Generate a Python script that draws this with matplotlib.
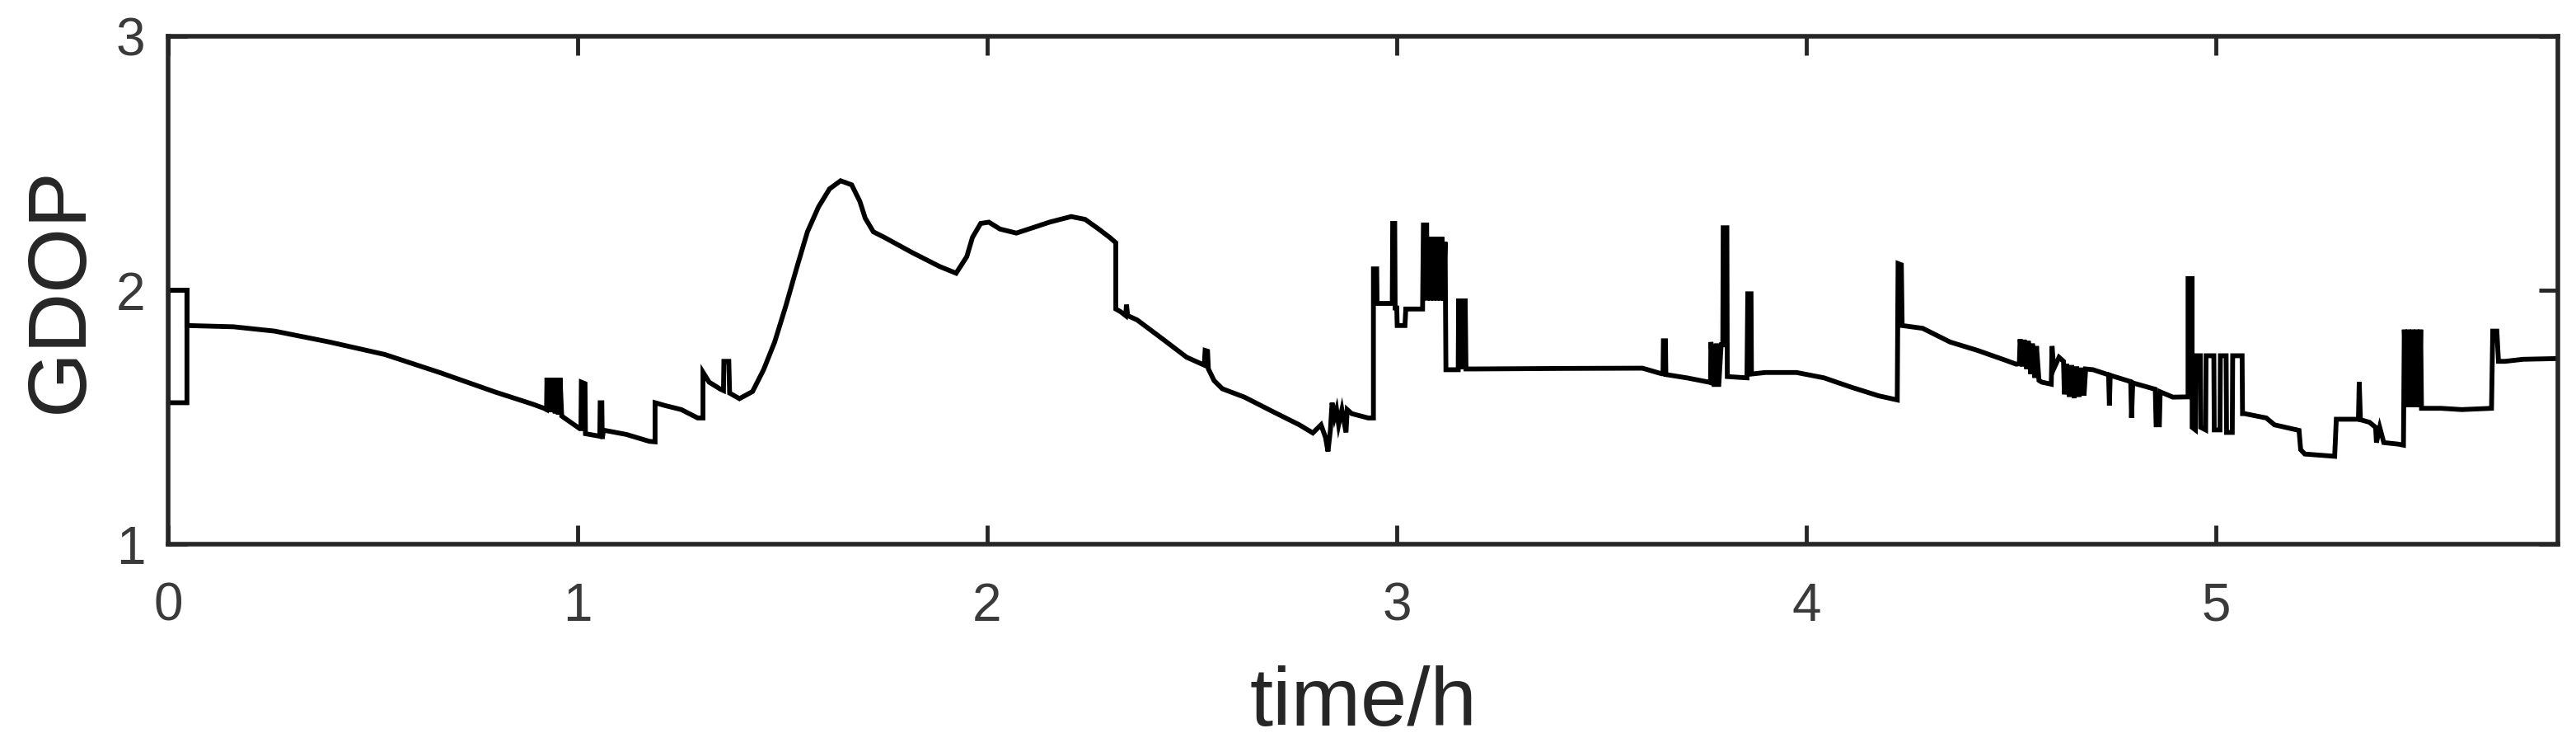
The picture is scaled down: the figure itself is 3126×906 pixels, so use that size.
import matplotlib
matplotlib.use("Agg")
import matplotlib.pyplot as plt

plt.rcParams['font.family'] = ['Liberation Sans', 'DejaVu Sans']

# GDOP trace (time in hours)
time_h = [
    0.0, 0.0, 0.046, 0.046, 0.0, 0.046, 0.046,
    0.16, 0.26, 0.394, 0.529, 0.663, 0.797, 0.891, 0.918,
    0.924, 0.925, 0.929, 0.933, 0.937, 0.941, 0.945, 0.949, 0.953, 0.957, 0.961,
    0.965, 1.005, 1.008, 1.009, 1.018, 1.019,
    1.054, 1.055, 1.059, 1.060, 1.063, 1.119, 1.175, 1.189, 1.189,
    1.213, 1.253, 1.293, 1.306, 1.306,
    1.321, 1.348, 1.356, 1.357, 1.369, 1.371, 1.395,
    1.427, 1.454, 1.481, 1.508, 1.535, 1.561, 1.588, 1.615, 1.642, 1.669,
    1.689, 1.702, 1.722, 1.749, 1.816, 1.883, 1.924, 1.950, 1.964, 1.984,
    2.004, 2.031, 2.071, 2.111, 2.152, 2.205, 2.239, 2.272, 2.299, 2.314, 2.314,
    2.326, 2.338, 2.340, 2.343, 2.366, 2.420, 2.487, 2.530, 2.532, 2.538, 2.540,
    2.554, 2.574, 2.628, 2.695, 2.762, 2.795,
    2.815, 2.826, 2.832, 2.838, 2.842, 2.848, 2.853, 2.858, 2.866, 2.876, 2.879,
    2.890, 2.930, 2.943, 2.943, 2.951, 2.952, 2.989, 2.990, 2.995, 2.996,
    3.000, 3.001, 3.020, 3.022, 3.063, 3.065, 3.073, 3.074,
    3.078, 3.082, 3.086, 3.090, 3.094, 3.098, 3.102, 3.106, 3.110, 3.114, 3.118, 3.120,
    3.150, 3.151, 3.155, 3.159, 3.163, 3.167, 3.169, 3.20, 3.40, 3.60, 3.647,
    3.650, 3.651, 3.656, 3.657, 3.708, 3.762, 3.766, 3.767, 3.775, 3.780, 3.786,
    3.792, 3.796, 3.797, 3.806, 3.807, 3.855, 3.857, 3.865, 3.866,
    3.90, 3.976, 4.043, 4.110, 4.177, 4.222, 4.224, 4.232, 4.234,
    4.284, 4.351, 4.418, 4.485, 4.512,
    4.520, 4.522, 4.528, 4.532, 4.538, 4.542, 4.548, 4.552, 4.558, 4.562, 4.568, 4.575,
    4.598, 4.600, 4.604, 4.617,
    4.628, 4.630, 4.636, 4.642, 4.648, 4.654, 4.660, 4.666, 4.672, 4.678, 4.682,
    4.700, 4.738, 4.740, 4.742, 4.792, 4.794, 4.797, 4.852, 4.854, 4.862, 4.864,
    4.895, 4.925, 4.932, 4.932, 4.942, 4.942, 4.950, 4.951, 4.962, 4.963, 4.975,
    4.976, 4.995, 4.996, 5.010, 5.011, 5.025, 5.026, 5.040, 5.041, 5.064, 5.065,
    5.070, 5.123, 5.143, 5.203, 5.207, 5.217, 5.290, 5.294, 5.345, 5.348, 5.350,
    5.353, 5.375, 5.390, 5.392, 5.400, 5.405, 5.410, 5.445, 5.458,
    5.460, 5.466, 5.470, 5.476, 5.480, 5.486, 5.490, 5.496, 5.500, 5.502,
    5.55, 5.60, 5.673, 5.676, 5.686, 5.690, 5.706, 5.75, 5.835,
]
gdop = [
    2.0, 1.557, 1.557, 2.0, 2.0, 2.0, 1.861,
    1.856, 1.839, 1.796, 1.747, 1.676, 1.600, 1.551, 1.535,
    1.53, 1.655, 1.52, 1.655, 1.52, 1.655, 1.515, 1.655, 1.51, 1.655, 1.505,
    1.50, 1.455, 1.455, 1.638, 1.632, 1.435,
    1.425, 1.557, 1.557, 1.415, 1.449, 1.432, 1.405, 1.403, 1.557,
    1.546, 1.530, 1.497, 1.497, 1.677,
    1.638, 1.611, 1.605, 1.720, 1.720, 1.595, 1.573,
    1.601, 1.687, 1.796, 1.937, 2.089, 2.230, 2.328, 2.399, 2.431, 2.415,
    2.350, 2.284, 2.230, 2.208, 2.149, 2.094, 2.067, 2.132, 2.208, 2.263,
    2.268, 2.241, 2.225, 2.246, 2.268, 2.290, 2.279, 2.241, 2.208, 2.187, 1.926,
    1.915, 1.90, 1.943, 1.90, 1.883, 1.818, 1.736, 1.705, 1.763, 1.760, 1.690,
    1.644, 1.612, 1.579, 1.524, 1.470, 1.438,
    1.47, 1.42, 1.365, 1.45, 1.557, 1.50, 1.53, 1.47, 1.53, 1.44, 1.53,
    1.514, 1.497, 1.497, 2.084, 2.084, 1.948, 1.948, 2.263, 2.263, 1.930,
    1.930, 1.861, 1.861, 1.926, 1.926, 2.257, 2.257, 1.960,
    2.21, 1.96, 2.21, 1.96, 2.21, 1.96, 2.21, 1.96, 2.21, 1.96, 2.19, 1.687,
    1.687, 1.967, 1.69, 1.967, 1.69, 1.967, 1.690, 1.690, 1.692, 1.693, 1.671,
    1.671, 1.801, 1.801, 1.668, 1.655, 1.638, 1.636, 1.796, 1.62, 1.79, 1.62,
    1.785, 1.785, 2.246, 2.246, 1.660, 1.655, 1.986, 1.986, 1.670,
    1.676, 1.676, 1.655, 1.618, 1.584, 1.568, 2.105, 2.100, 1.861,
    1.850, 1.796, 1.763, 1.725, 1.709,
    1.71, 1.807, 1.70, 1.805, 1.69, 1.80, 1.67, 1.79, 1.655, 1.78, 1.645, 1.638,
    1.63, 1.780, 1.69, 1.736,
    1.72, 1.59, 1.71, 1.58, 1.705, 1.575, 1.70, 1.58, 1.695, 1.585, 1.69,
    1.687, 1.667, 1.546, 1.665, 1.64, 1.497, 1.635, 1.61, 1.47, 1.47, 1.60,
    1.579, 1.58, 1.58, 2.046, 2.046, 1.46, 1.45, 1.742, 1.742, 1.46, 1.45,
    1.742, 1.742, 1.45, 1.45, 1.742, 1.742, 1.44, 1.44, 1.742, 1.742, 1.514,
    1.514, 1.497, 1.470, 1.448, 1.372, 1.355, 1.346, 1.492, 1.492, 1.492, 1.638,
    1.49, 1.48, 1.46, 1.40, 1.46, 1.43, 1.40, 1.394, 1.390,
    1.845, 1.54, 1.845, 1.54, 1.845, 1.54, 1.845, 1.54, 1.845, 1.535,
    1.535, 1.53, 1.535, 1.839, 1.839, 1.720, 1.720, 1.728, 1.731,
]

x_ticks = [0, 1, 2, 3, 4, 5]
y_ticks = [1, 2, 3]

fig = plt.figure(figsize=(31.26, 9.06), dpi=100)
ax = fig.add_axes([204 / 3126, 1 - 660 / 906, 2900 / 3126, 616 / 906])

ax.plot(time_h, gdop, color='black', linewidth=4.2, solid_joinstyle='miter')

ax.set_xlim(0, 5.835)
ax.set_ylim(1, 3)
ax.set_xticks(x_ticks)
ax.set_yticks(y_ticks)

dark = '#262626'
for s in ax.spines.values():
    s.set_linewidth(4)
    s.set_color(dark)
    s.set_zorder(3)

ax.tick_params(axis='both', direction='in', length=16.5, width=3.5,
               colors=dark, labelsize=46, top=True, right=True)
ax.tick_params(axis='both', labelcolor='#3a3a3a')
ax.tick_params(axis='x', pad=33)
ax.tick_params(axis='y', pad=20)

ax.set_xlabel('time/h', fontsize=73, color=dark)
ax.set_ylabel('GDOP', fontsize=73, color=dark)
ax.xaxis.set_label_coords(0.5, -0.2386)
ax.yaxis.set_label_coords(-0.0286, 0.5)

fig.savefig('out.png', dpi=100)
